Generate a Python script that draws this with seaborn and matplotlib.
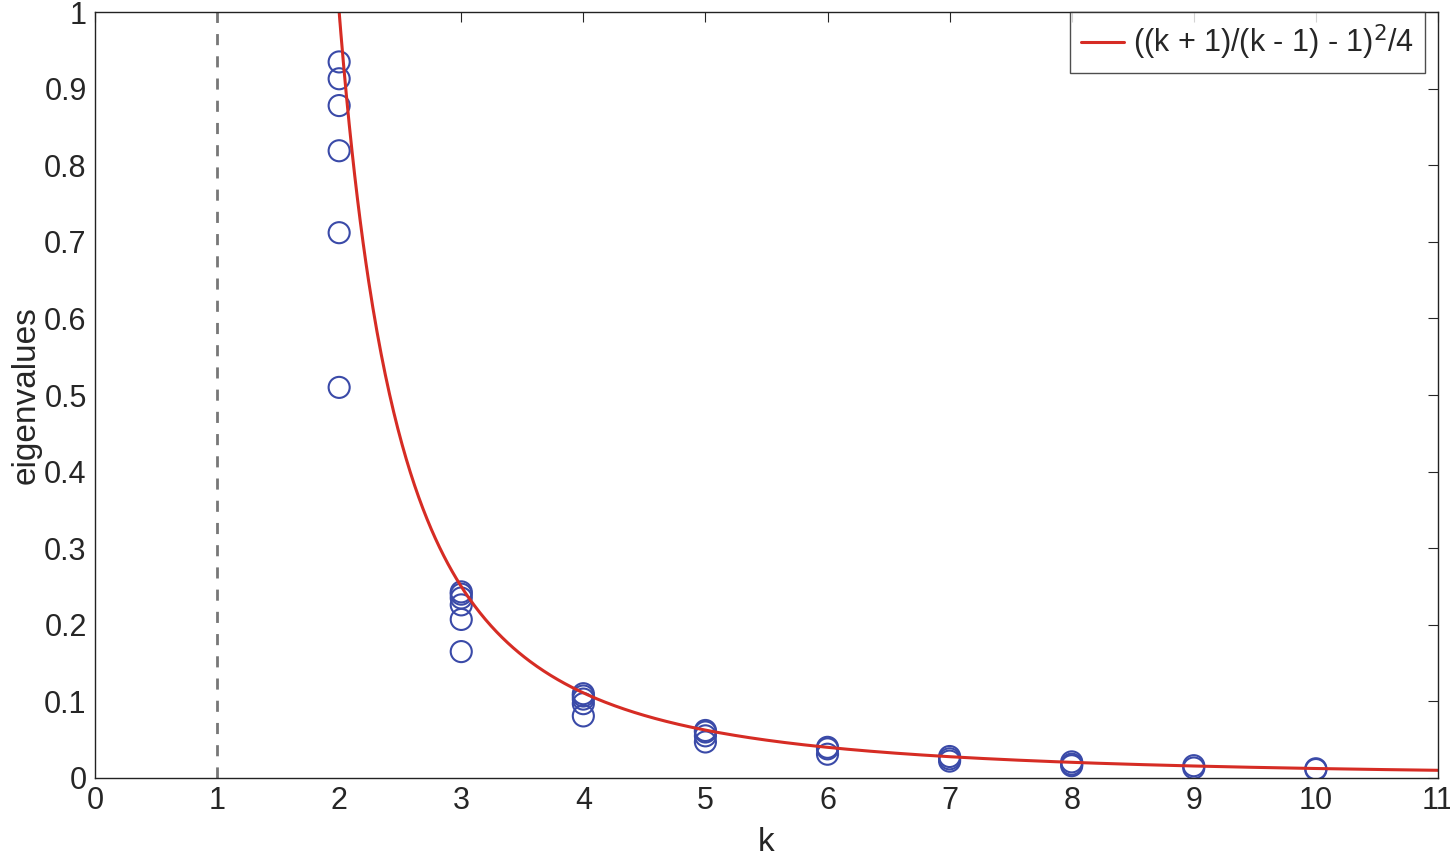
import matplotlib
matplotlib.use("Agg")
import matplotlib.pyplot as plt
import numpy as np
import pandas as pd
import seaborn as sns

# eigenvalues, grouped by k
k_vals = [2]*6 + [3]*6 + [4]*5 + [5]*4 + [6]*3 + [7]*3 + [8]*3 + [9]*2 + [10]*2
eig_vals = [0.935, 0.913, 0.878, 0.819, 0.712, 0.510,
            0.243, 0.240, 0.235, 0.226, 0.207, 0.165,
            0.110, 0.107, 0.103, 0.097, 0.081,
            0.062, 0.060, 0.055, 0.047,
            0.040, 0.038, 0.031,
            0.028, 0.025, 0.022,
            0.021, 0.018, 0.016,
            0.016, 0.013,
            0.012, 0.011]
x_ticks = list(range(12))
y_ticks = [0, 0.1, 0.2, 0.3, 0.4, 0.5, 0.6, 0.7, 0.8, 0.9, 1]
y_ticklabels = ["0", "0.1", "0.2", "0.3", "0.4", "0.5", "0.6", "0.7", "0.8", "0.9", "1"]

sns.set_style("white")
plt.rcParams['font.family'] = ['Liberation Sans', 'DejaVu Sans']

df = pd.DataFrame({"k": k_vals, "eig": eig_vals})
kk = np.linspace(1.9, 11, 800)
curve = pd.DataFrame({"k": kk, "f": ((kk + 1) / (kk - 1) - 1) ** 2 / 4})

fig = plt.figure(figsize=(14.5, 8.67), dpi=100)
ax = fig.add_axes([0.0655, 0.1027, 0.9262, 0.8833])

ax.axvline(1, color="#777777", ls="--", lw=2, dashes=(4, 4))
sns.lineplot(data=curve, x="k", y="f", ax=ax, color="#d62c24", lw=2.2,
             label=r"((k + 1)/(k - 1) - 1)$^2$/4")
sns.scatterplot(data=df, x="k", y="eig", ax=ax, s=230, marker="o",
                facecolor="none", edgecolor="#3a4aa8", linewidth=1.5, legend=False)

ax.set_xlim(0, 11)
ax.set_ylim(0, 1)
ax.set_xticks(x_ticks)
ax.set_yticks(y_ticks)
ax.set_yticklabels(y_ticklabels)
ax.tick_params(direction="in", labelsize=22, length=7, top=True, right=True, pad=6)
ax.set_xlabel("k", fontsize=24, labelpad=8)
ax.set_ylabel("eigenvalues", fontsize=24, labelpad=2)
for s in ax.spines.values():
    s.set_color("#222222")
    s.set_linewidth(1)
leg = ax.legend(loc="upper right", fontsize=22, frameon=True, fancybox=False,
                handlelength=1.4, handletextpad=0.3, borderaxespad=0.0,
                borderpad=0.35, bbox_to_anchor=(0.99, 1.0))
leg.get_frame().set_edgecolor("#222222")
leg.get_frame().set_linewidth(1)

fig.savefig("out.png", dpi=100)
